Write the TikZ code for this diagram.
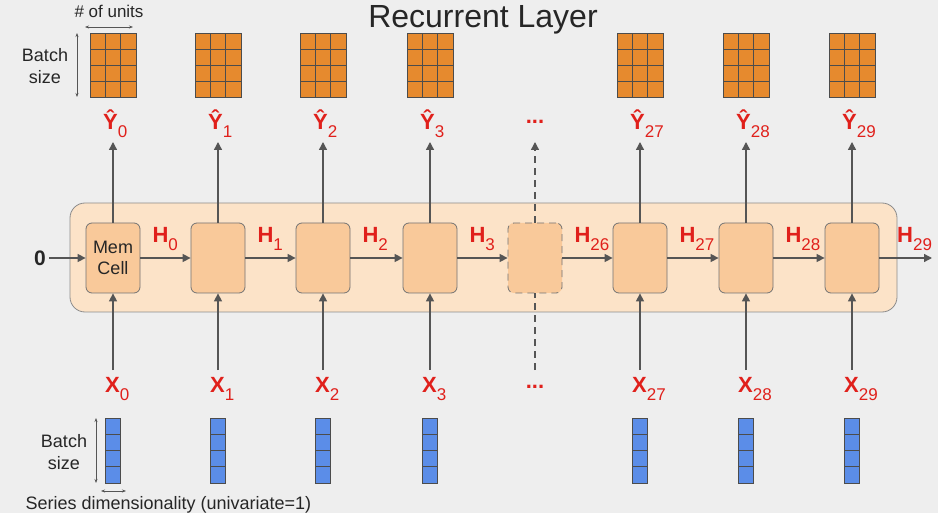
\documentclass[tikz,border=0pt]{standalone}
\usepackage{fontspec}
\setmainfont{Liberation Sans}
\usetikzlibrary{arrows.meta,calc}
\definecolor{bg}{HTML}{EEEEEE}
\definecolor{cont}{HTML}{FCE3C8}
\definecolor{cellc}{HTML}{F9C99A}
\definecolor{orng}{HTML}{E68A2E}
\definecolor{blu}{HTML}{5B8DE8}
\definecolor{lab}{HTML}{E0201B}
\definecolor{ln}{HTML}{555555}
\begin{document}
\begin{tikzpicture}[x=1pt,y=-1pt,
  cell/.style={draw=black!55,fill=cellc,rounded corners=6pt,minimum width=54pt,minimum height=70pt,inner sep=0pt,line width=0.8pt},
  arr/.style={draw=ln,line width=1.4pt,-{Triangle[length=8pt,width=8pt]}},
  dsh/.style={dash pattern=on 7pt off 5pt},
  dim/.style={draw=ln,line width=0.6pt,{Stealth[length=4pt]}-{Stealth[length=4pt]}},
  lbl/.style={text=lab,font=\fontsize{22}{22}\selectfont\bfseries},
  sub/.style={},
  txt/.style={font=\fontsize{19}{19}\selectfont,text=black!85}]
\fill[bg] (0,0) rectangle (938,513);
\useasboundingbox (0,0) rectangle (938,513);
\node[txt,font=\fontsize{32}{32}\selectfont] (title) at (483,20) {Recurrent Layer};
\node[draw=black!45,fill=cont,rounded corners=15pt,minimum width=827pt,minimum height=109pt,line width=0.8pt] (cont) at (483.5,257.5) {};
\foreach \i/\x/\s in {0/113/0,1/218/1,2/323/2,3/430/3,5/640/27,6/746/28,7/852/29}{
  \node[cell] (c\i) at (\x,258) {};
  \foreach \r in {0,...,3}{\foreach \c in {0,1,2}{
    \draw[fill=orng,draw=black!70,line width=0.6pt] (\x-23+\c*15.33,33+\r*16) rectangle ++(15.33,16);}}
  \node[lbl,inner sep=0pt,anchor=west] (y\i) at (\x-10,124) {\^{Y}\raisebox{-0.7ex}{\fontsize{17}{17}\selectfont\mdseries\s}};
  \coordinate (yt\i) at (\x,142);
  \draw[arr] (c\i.north) -- (yt\i);
  \node[lbl,inner sep=0pt,anchor=west] (x\i) at (\x-8,389) {X\raisebox{-0.7ex}{\fontsize{17}{17}\selectfont\mdseries\s}};
  \coordinate (xb\i) at (\x,370);
  \draw[arr] (xb\i) -- (c\i.south);
  \foreach \r in {0,...,3}{
    \draw[fill=blu,draw=black!70,line width=0.6pt] (\x-7.5,418+\r*16.25) rectangle ++(15,16.25);}
}
\node[cell,dsh,fill=cellc] (c4) at (535,258) {};
\node[lbl] (y4) at (535,122) {...};
\node[lbl] (x4) at (535,387) {...};
\coordinate (yt4) at (535,142);
\coordinate (xb4) at (535,370);
\draw[arr,dsh] (c4.north) -- (yt4);
\draw[ln,line width=1.4pt,dsh] (xb4) -- (c4.south);
\node[txt,font=\fontsize{21}{21}\selectfont\bfseries] (zero) at (40,258) {0};
\draw[arr] (zero) -- (c0.west);
\node[txt,align=center,font=\fontsize{18}{21}\selectfont] at (c0) {Mem\\Cell};
\foreach \a/\b/\h in {0/1/0,1/2/1,2/3/2,3/4/3,4/5/26,5/6/27,6/7/28}{
  \draw[arr] (c\a.east) -- (c\b.west);
  \node[lbl,anchor=west,inner sep=0pt] at ($(c\a.east)+(12,-19)$) {H\raisebox{-0.7ex}{\fontsize{17}{17}\selectfont\mdseries\h}};
}
\coordinate (hend) at (932,258);
\draw[arr] (c7.east) -- (hend);
\node[lbl,anchor=west,inner sep=0pt] at (897,239) {H\raisebox{-0.7ex}{\fontsize{17}{17}\selectfont\mdseries 29}};
\node[txt,font=\fontsize{17}{17}\selectfont] (nu) at (109,11) {\# of units};
\coordinate (u1) at (85,27); \coordinate (u2) at (133,27);
\draw[dim] (u1) -- (u2);
\coordinate (b1) at (77,33); \coordinate (b2) at (77,97);
\draw[dim] (b1) -- (b2);
\node[txt,align=center,font=\fontsize{18}{22}\selectfont] (bs) at (45,66) {Batch\\size};
\coordinate (b3) at (96,418); \coordinate (b4) at (96,483);
\draw[dim] (b3) -- (b4);
\node[txt,align=center,font=\fontsize{18}{22}\selectfont] (bs2) at (64,452) {Batch\\size};
\coordinate (s1) at (101,491); \coordinate (s2) at (126,491);
\draw[dim] (s1) -- (s2);
\node[txt,anchor=west,font=\fontsize{18}{18}\selectfont] (sd) at (22,505) {Series dimensionality (univariate=1)};
\end{tikzpicture}
\end{document}
